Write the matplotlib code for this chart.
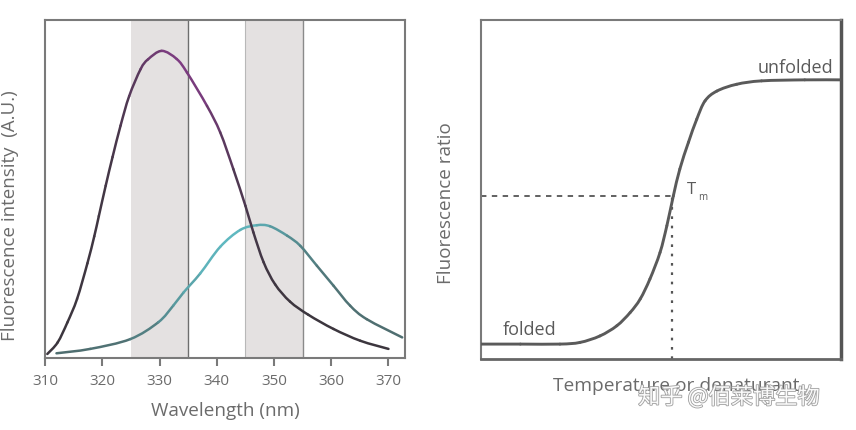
import numpy as np
import matplotlib
matplotlib.use("Agg")
import matplotlib.pyplot as plt
from matplotlib.path import Path
from matplotlib.patches import PathPatch
from matplotlib.colors import to_rgb
import matplotlib.patheffects as pe

# ---------------- data ----------------
folded_nm = [310.4, 312.2, 313.9, 315.6, 317.4, 318.6, 319.4, 320.6, 321.8, 323.2,
             324.7, 326.7, 328.0, 330.4, 333.0, 334.8, 338.3, 340.6, 342.9, 345.0,
             346.4, 348.2, 350.2, 352.8, 356.0, 360.4, 365.1, 370.0]
folded_val = [0.012, 0.046, 0.105, 0.175, 0.280, 0.360, 0.420, 0.510, 0.595, 0.688,
              0.775, 0.855, 0.884, 0.909, 0.885, 0.845, 0.746, 0.668, 0.559, 0.451,
              0.372, 0.283, 0.218, 0.167, 0.128, 0.086, 0.051, 0.027]
unfolded_nm = [312.0, 317.9, 324.9, 329.8, 332.4, 334.2, 337.1, 340.6, 344.1, 347.0,
               349.3, 352.3, 354.6, 357.5, 360.4, 363.3, 366.2, 372.4]
unfolded_val = [0.014, 0.027, 0.056, 0.106, 0.155, 0.194, 0.25, 0.329, 0.379, 0.393,
                0.390, 0.362, 0.332, 0.273, 0.214, 0.155, 0.115, 0.061]
bands = [(325, 335), (345, 355)]
x_ticks = [310, 320, 330, 340, 350, 360, 370]

melt_x = [0.0, 0.110, 0.220, 0.276, 0.331, 0.378, 0.415, 0.443, 0.470, 0.498,
          0.517, 0.535, 0.553, 0.577, 0.600, 0.623, 0.656, 0.711, 0.780, 0.900, 1.0]
melt_y = [0.044, 0.044, 0.044, 0.049, 0.068, 0.098, 0.137, 0.177, 0.236, 0.314,
          0.393, 0.481, 0.560, 0.639, 0.707, 0.761, 0.790, 0.810, 0.820, 0.823, 0.823]
tm_x, tm_y = 0.532, 0.481

# ---------------- style ----------------
plt.rcParams['font.family'] = ['Open Sans', 'DejaVu Sans']
txt = '#6b6b6b'
spine_c = '#7a7a7a'

fig = plt.figure(figsize=(8.56, 4.31), dpi=100)
ax1 = fig.add_axes([0.0526, 0.167, 0.4206, 0.784])
ax2 = fig.add_axes([0.5616, 0.1647, 0.4206, 0.787])


def smooth_segments(ax, xs, ys):
    """Cubic Bezier pieces passing through the given points (Catmull-Rom handles),
    computed in display space so the curve looks smooth."""
    P = ax.transData.transform(np.column_stack([xs, ys]))
    n = len(P)
    inv = ax.transData.inverted()
    pieces = []
    for i in range(n - 1):
        p0 = P[i - 1] if i > 0 else P[i]
        p1, p2 = P[i], P[i + 1]
        p3 = P[i + 2] if i + 2 < n else P[i + 1]
        c1 = p1 + (p2 - p0) / 6.0
        c2 = p2 - (p3 - p1) / 6.0
        pieces.append(inv.transform(np.array([p1, c1, c2, p2])))
    return pieces


def draw_smooth(ax, xs, ys, color_fn, lw, zorder=3):
    for pts in smooth_segments(ax, xs, ys):
        mid = 0.5 * (pts[0, 0] + pts[3, 0])
        path = Path(pts, [Path.MOVETO, Path.CURVE4, Path.CURVE4, Path.CURVE4])
        ax.add_patch(PathPatch(path, fill=False, edgecolor=color_fn(mid), lw=lw,
                               capstyle='round', joinstyle='round', zorder=zorder))


def blend(c_mid, c_tail, center, width):
    cm = np.array(to_rgb(c_mid)); ct = np.array(to_rgb(c_tail))
    def f(x):
        w = np.exp(-((x - center) / width) ** 2)
        return tuple(ct + (cm - ct) * w)
    return f


ax1.set_xlim(310, 372.9)
ax1.set_ylim(0, 1)
ax2.set_xlim(0, 1)
ax2.set_ylim(0, 1)

# ---------------- left panel ----------------
for (a, b) in bands:
    ax1.axvspan(a, b, color='#e4e1e1', lw=0, zorder=1)
ax1.axvline(335, color='#6e6e6e', lw=1.0, zorder=2)
ax1.axvline(345, color='#b8b8b8', lw=0.8, zorder=2)
ax1.axvline(355, color='#8a8a8a', lw=1.0, zorder=2)

draw_smooth(ax1, unfolded_nm, unfolded_val, blend('#5fb8c0', '#4f6e70', 342, 12), 1.8)
draw_smooth(ax1, folded_nm, folded_val, blend('#7e3c82', '#3c363e', 334, 9), 1.8)

ax1.set_xticks(x_ticks)
ax1.set_yticks([])
ax1.tick_params(axis='x', direction='out', length=6, width=1.5, color=spine_c,
                labelsize=11, labelcolor=txt, pad=5)
for s in ax1.spines.values():
    s.set_color(spine_c)
    s.set_linewidth(1.5)
ax1.set_xlabel('Wavelength (nm)', fontsize=13.6, color=txt, labelpad=9)
ax1.set_ylabel('Fluorescence intensity  (A.U.)', fontsize=13.5, color=txt)
ax1.yaxis.set_label_coords(-0.072, 0.423)

# ---------------- right panel ----------------
draw_smooth(ax2, melt_x, melt_y, lambda x: '#5a5a5a', 2.1)
ax2.plot([0, tm_x], [tm_y, tm_y], color='#555555', lw=1.3, ls=(0, (3, 3)), zorder=2)
ax2.plot([tm_x, tm_x], [0, tm_y], color='#555555', lw=1.6, ls=(0, (1.2, 3)), zorder=2)
ax2.set_xticks([])
ax2.set_yticks([])
for name, s in ax2.spines.items():
    s.set_color(spine_c)
    s.set_linewidth(1.5)
ax2.spines['right'].set_color('#555555')
ax2.spines['right'].set_linewidth(2.5)
ax2.spines['bottom'].set_color('#666666')
ax2.spines['bottom'].set_linewidth(2.0)

ax2.text(0.06, 0.062, 'folded', fontsize=13, color='#5a5a5a', ha='left', va='bottom')
ax2.text(0.98, 0.835, 'unfolded', fontsize=13, color='#5a5a5a', ha='right', va='bottom')
ax2.text(tm_x + 0.04, tm_y - 0.004, 'T', fontsize=12, color='#5a5a5a', ha='left', va='bottom')
ax2.text(tm_x + 0.071, tm_y - 0.019, 'm', fontsize=7, color='#5a5a5a', ha='left', va='bottom')
ax2.set_ylabel('Fluorescence ratio', fontsize=13.6, color=txt)
ax2.yaxis.set_label_coords(-0.072, 0.463)
fig.text(676 / 856, 1 - 386 / 431, 'Temperature or denaturant', fontsize=13.8,
         color=txt, ha='center', va='center')

wm = fig.text(729 / 856, 1 - 398 / 431, '知乎 @佰莱博生物', fontsize=16,
              color='white', ha='center', va='center',
              family=['Noto Sans CJK SC', 'DejaVu Sans'], alpha=0.95)
wm.set_path_effects([pe.withStroke(linewidth=1.2, foreground='#9a9a9a')])

fig.savefig('out.png', dpi=100)
